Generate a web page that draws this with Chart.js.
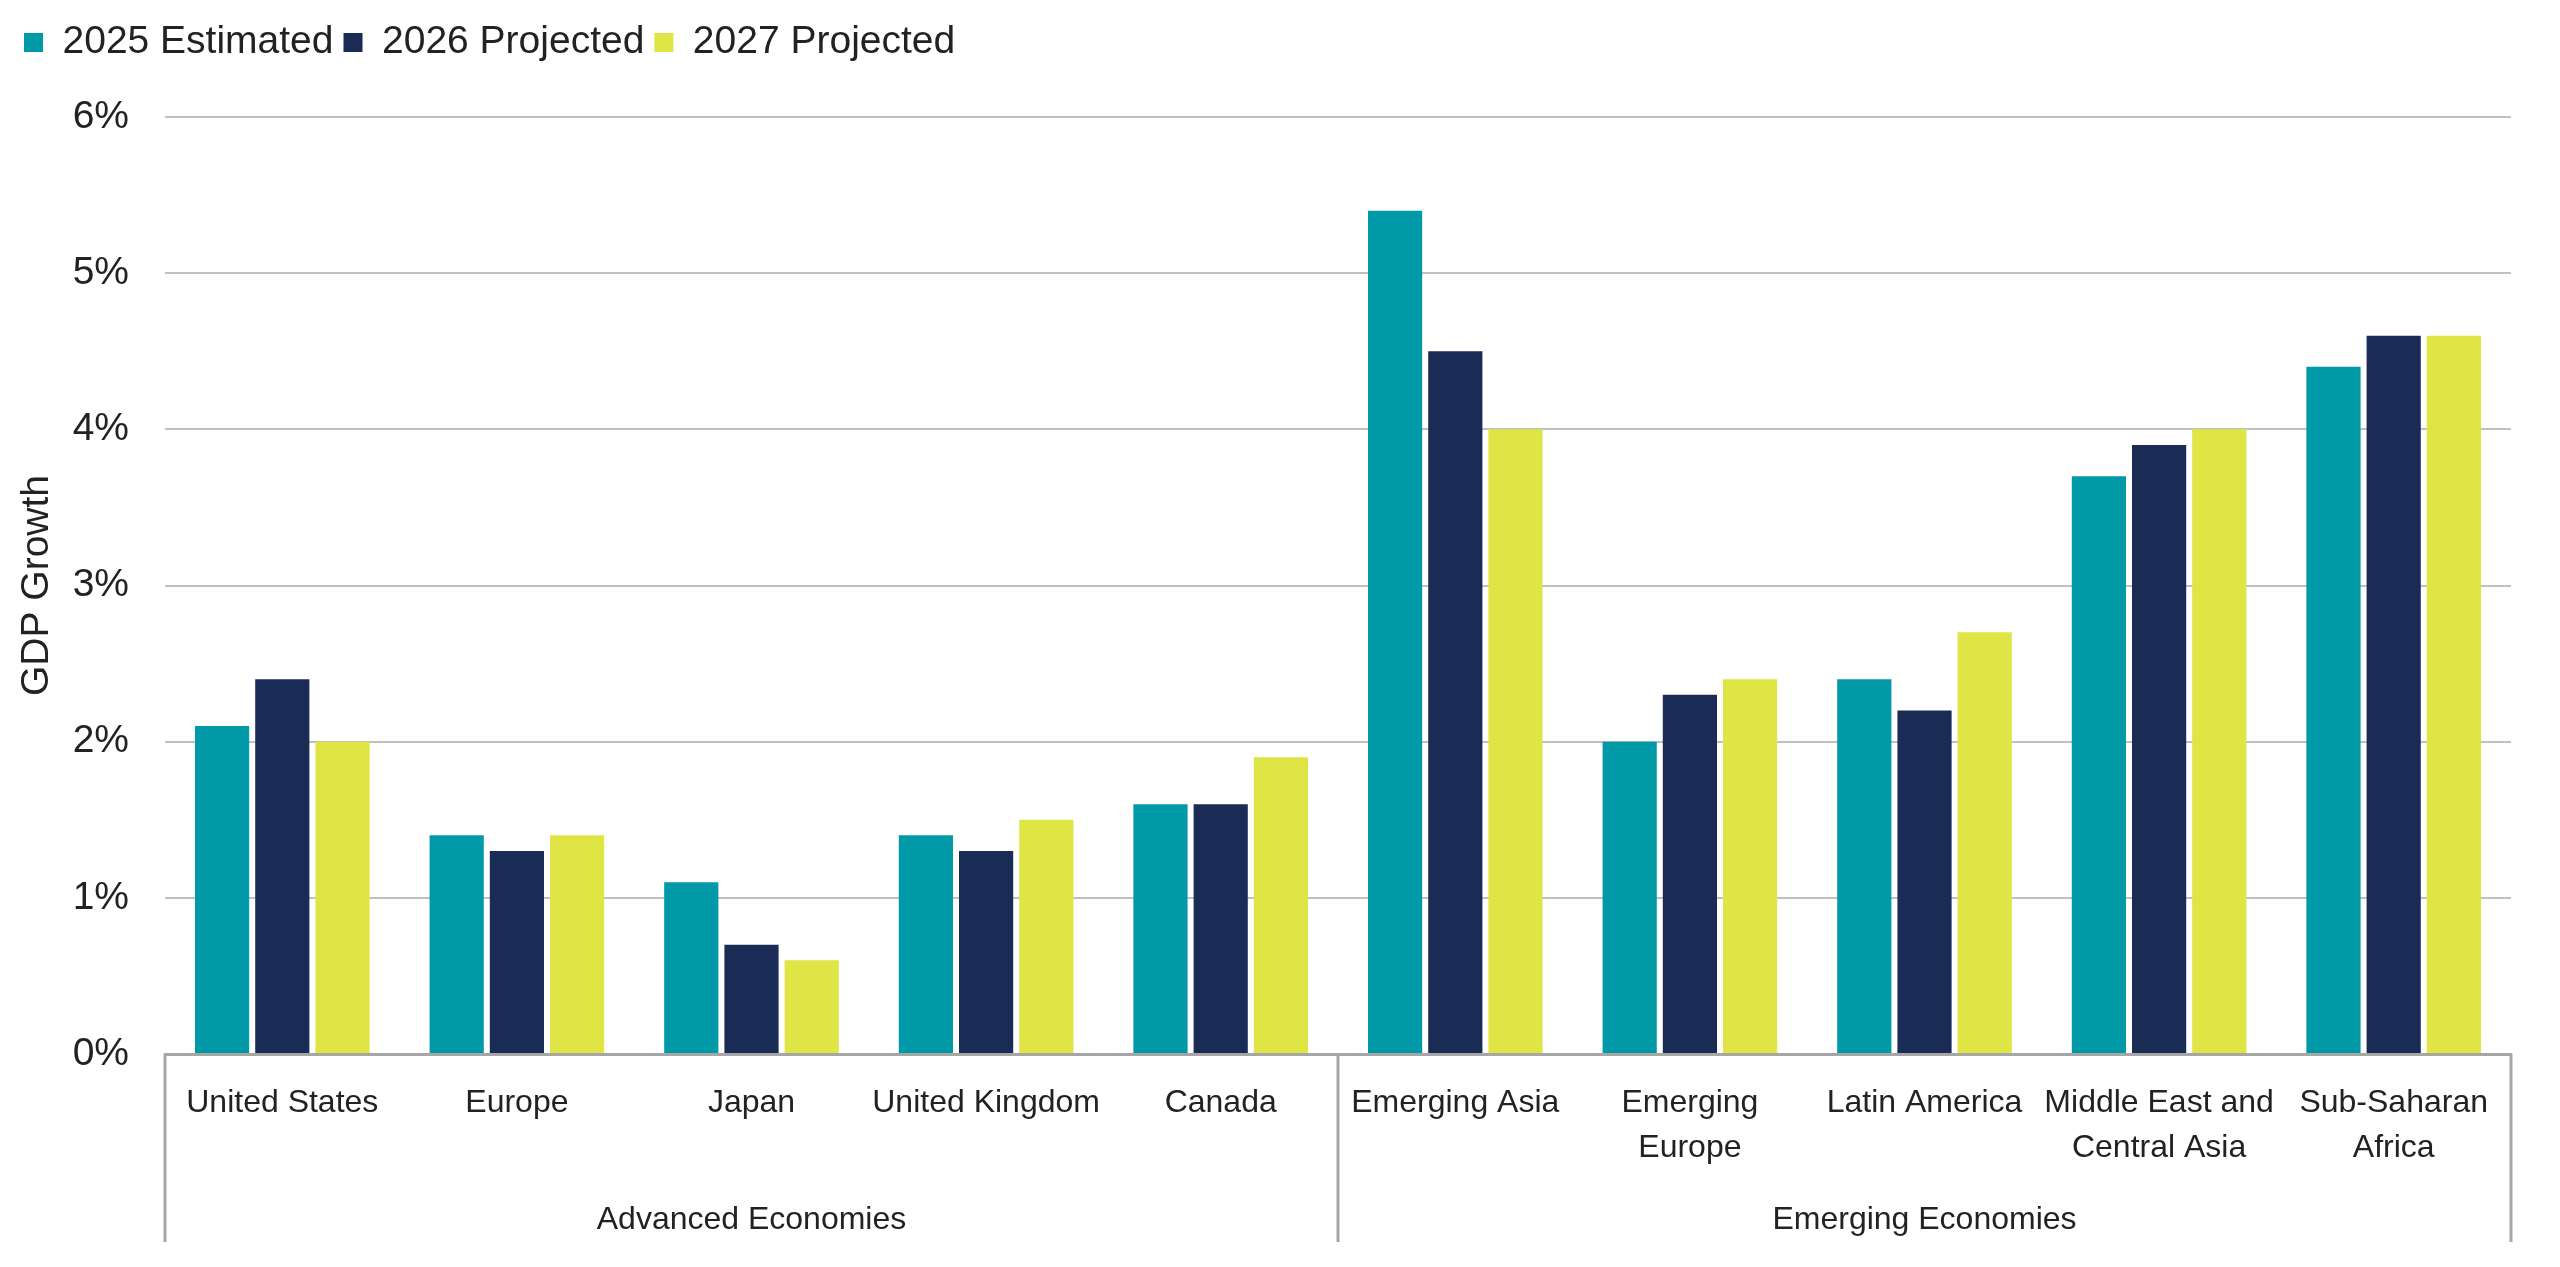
<!DOCTYPE html>
<html>
<head>
<meta charset="utf-8">
<script src="https://cdn.jsdelivr.net/npm/chart.js@4.4.1/dist/chart.umd.min.js"></script>
<style>
  html, body { margin: 0; padding: 0; background: #fff; }
  #wrap { width: 2560px; height: 1267px; position: relative; }
</style>
</head>
<body>
<div id="wrap"><canvas id="grafico"></canvas></div>
<script>
// categorias e séries
const regioes = [
  'United States', 'Europe', 'Japan', 'United Kingdom', 'Canada',
  'Emerging Asia', ['Emerging', 'Europe'], 'Latin America',
  ['Middle East and', 'Central Asia'], ['Sub-Saharan', 'Africa']
];
const grupos = ['Advanced Economies', 'Emerging Economies'];
const est2025  = [2.1, 1.4, 1.1, 1.4, 1.6, 5.4, 2.0, 2.4, 3.7, 4.4];
const proj2026 = [2.4, 1.3, 0.7, 1.3, 1.6, 4.5, 2.3, 2.2, 3.9, 4.6];
const proj2027 = [2.0, 1.4, 0.6, 1.5, 1.9, 4.0, 2.4, 2.7, 4.0, 4.6];
const ticksY = [0, 1, 2, 3, 4, 5, 6];

const corTexto = '#222222';
const fonte = "'Liberation Sans', Arial, sans-serif";

// espaço extra abaixo da legenda
const espacoLegenda = {
  id: 'espacoLegenda',
  beforeInit(chart) {
    const fitOrig = chart.legend.fit;
    chart.legend.fit = function () {
      fitOrig.call(this);
      this.height += 45;
    };
  }
};

// linhas verticais separando os grupos, abaixo do eixo
const separadores = {
  id: 'separadores',
  afterDraw(chart) {
    const x = chart.scales.x;
    const g = chart.scales.grupo;
    const ctx = chart.ctx;
    const meio = (x.getPixelForValue(4) + x.getPixelForValue(5)) / 2;
    ctx.save();
    ctx.strokeStyle = '#a6a6a6';
    ctx.lineWidth = 3;
    [x.left, meio, x.right].forEach(px => {
      ctx.beginPath();
      ctx.moveTo(px, chart.chartArea.bottom);
      ctx.lineTo(px, g.bottom);
      ctx.stroke();
    });
    ctx.restore();
  }
};

new Chart(document.getElementById('grafico'), {
  type: 'bar',
  data: {
    labels: regioes,
    datasets: [
      { label: '2025 Estimated', data: est2025,  backgroundColor: '#0099A8' },
      { label: '2026 Projected', data: proj2026, backgroundColor: '#1A2B56' },
      { label: '2027 Projected', data: proj2027, backgroundColor: '#DEE545' }
    ]
  },
  options: {
    responsive: true,
    maintainAspectRatio: false,
    animation: false,
    barPercentage: 0.9,
    categoryPercentage: 0.77,
    layout: { padding: { left: 14, right: 49, top: 13, bottom: 25 } },
    plugins: {
      tooltip: { enabled: false },
      legend: {
        position: 'top',
        align: 'start',
        labels: {
          boxWidth: 19,
          boxHeight: 19,
          padding: 10,
          color: corTexto,
          font: { family: fonte, size: 39 }
        }
      }
    },
    scales: {
      x: {
        grid: { display: false },
        border: { display: true, color: '#a6a6a6', width: 3 },
        ticks: {
          color: corTexto,
          autoSkip: false,
          maxRotation: 0,
          padding: 19,
          font: { family: fonte, size: 32, lineHeight: 1.4 }
        }
      },
      grupo: {
        type: 'category',
        position: 'bottom',
        labels: grupos,
        offset: true,
        grid: { display: false },
        border: { display: false },
        ticks: {
          color: corTexto,
          padding: 3,
          font: { family: fonte, size: 32 }
        }
      },
      y: {
        min: 0,
        max: 6,
        afterBuildTicks: axis => { axis.ticks = ticksY.map(v => ({ value: v })); },
        afterFit: axis => { axis.width = 151; },
        grid: { color: '#c0c0c0', lineWidth: 2, drawTicks: false },
        border: { display: false },
        ticks: {
          color: corTexto,
          padding: 36,
          callback: v => v + '%',
          font: { family: fonte, size: 39 }
        },
        title: {
          display: true,
          text: 'GDP Growth',
          color: corTexto,
          padding: { top: 0, bottom: 14 },
          font: { family: fonte, size: 39 }
        }
      }
    }
  },
  plugins: [espacoLegenda, separadores]
});
</script>
</body>
</html>
